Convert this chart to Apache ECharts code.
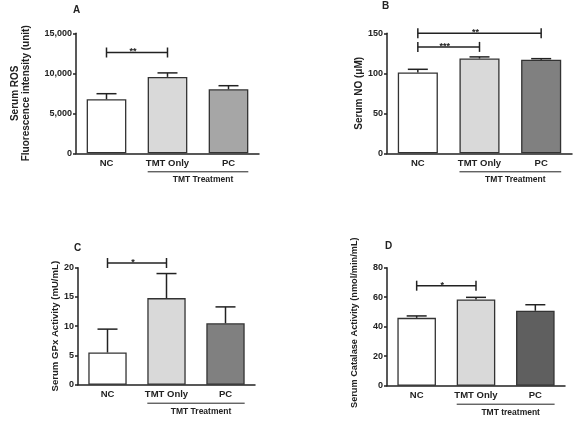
<!DOCTYPE html>
<html><head><meta charset="utf-8">
<script src="https://cdn.jsdelivr.net/npm/echarts@6/dist/echarts.min.js"></script>
<style>html,body{margin:0;padding:0;background:#fff}#c{width:579px;height:422px}</style>
</head><body><div id="c"></div>
<script>
// ---- data ----
const categories = ['NC', 'TMT Only', 'PC'];
const treatedGroup = [1, 2]; // categories under the "TMT Treatment" line

const rosMean = [6750, 9550, 8000];
const rosErr  = [700, 500, 450];
const rosTicks = [0, 5000, 10000, 15000];
const rosSig = [[0, 1, 12600, '**']];

const noMean = [101, 118.5, 117];
const noErr  = [4, 2, 1.3];
const noTicks = [0, 50, 100, 150];
const noSig = [[0, 2, 150, '**'], [0, 1, 133, '***']];

const gpxMean = [5.5, 14.8, 10.5];
const gpxErr  = [4.0, 4.2, 2.8];
const gpxTicks = [0, 5, 10, 15, 20];
const gpxSig = [[0, 1, 20.8, '*']];

const catMean = [46, 58.5, 50.8];
const catErr  = [1.3, 1.4, 4.1];
const catTicks = [0, 20, 40, 60, 80];
const catSig = [[0, 1, 67.8, '*']];

const panelLetters = ['A', 'B', 'C', 'D'];
const yTitles = ['Serum ROS\nFluorescence intensity (unit)', 'Serum NO (\u03bcM)', 'Serum GPx Activity (mU/mL)', 'Serum Catalase Activity (nmol/min/mL)'];
const groupLabels = ['TMT Treatment', 'TMT Treatment', 'TMT Treatment', 'TMT treatment'];

// ---- layout / style ----
const FONT = "'Liberation Sans', Arial, sans-serif";
const INK = '#222';
const panels = [
  { grid: {left: 76, top: 33.3, width: 183, height: 120}, mean: rosMean, err: rosErr, ticks: rosTicks, sig: rosSig, gap: 44, nameSize: 10, namePad: [0, 0, 0, 0], colors: ['#ffffff', '#d9d9d9', '#a6a6a6'], letter: {left: 73, top: 5}, fmt: v => v.toLocaleString('en-US') },
  { grid: {left: 387, top: 33.3, width: 185, height: 120}, mean: noMean, err: noErr, ticks: noTicks, sig: noSig, gap: 22, nameSize: 10, namePad: [0, 0, 0, 0], colors: ['#ffffff', '#d9d9d9', '#808080'], letter: {left: 382, top: 1}, fmt: v => String(v) },
  { grid: {left: 78, top: 267.7, width: 177, height: 117}, mean: gpxMean, err: gpxErr, ticks: gpxTicks, sig: gpxSig, gap: 17, nameSize: 9.6, namePad: [0, 0, 0, 0], colors: ['#ffffff', '#d9d9d9', '#808080'], letter: {left: 74, top: 243}, fmt: v => String(v) },
  { grid: {left: 387, top: 267.7, width: 178, height: 118}, mean: catMean, err: catErr, ticks: catTicks, sig: catSig, gap: 27, nameSize: 9.2, namePad: [0, 0, 0, 8], colors: ['#ffffff', '#d9d9d9', '#5f5f5f'], letter: {left: 385, top: 241}, fmt: v => String(v) }
];

const grid = [], xAxis = [], yAxis = [], series = [], title = [];
panels.forEach((p, k) => {
  grid.push(p.grid);
  title.push({ text: panelLetters[k], left: p.letter.left, top: p.letter.top, padding: 0,
    textStyle: { fontFamily: FONT, fontSize: 10, fontWeight: 'bold', color: INK } });
  xAxis.push({
    type: 'category', gridIndex: k, data: categories,
    axisLine: { lineStyle: { color: INK, width: 1.5 } },
    axisTick: { alignWithLabel: true, length: 3, lineStyle: { color: INK, width: 1.5 } },
    axisLabel: { interval: 0, margin: 5, fontFamily: FONT, fontSize: 9.5, fontWeight: 'bold', color: INK }
  });
  const t = p.ticks;
  yAxis.push({
    type: 'value', gridIndex: k, min: t[0], max: t[t.length - 1], interval: t[1] - t[0],
    name: yTitles[k], nameLocation: 'middle', nameRotate: 90, nameGap: p.gap, nameMoveOverlap: false,
    nameTextStyle: { fontFamily: FONT, fontSize: p.nameSize, fontWeight: 'bold', color: INK, lineHeight: 11, padding: p.namePad },
    splitLine: { show: false },
    axisLine: { show: true, lineStyle: { color: INK, width: 1.5 } },
    axisTick: { show: true, length: 3, lineStyle: { color: INK, width: 1.5 } },
    axisLabel: { margin: 4, fontFamily: FONT, fontSize: 9, fontWeight: 'bold', color: INK, formatter: p.fmt }
  });
  // bars
  series.push({
    type: 'bar', xAxisIndex: k, yAxisIndex: k, barWidth: '65%', z: 2,
    data: p.mean.map((v, i) => ({ value: v, itemStyle: { color: p.colors[i] } })),
    itemStyle: { borderColor: '#333', borderWidth: 1.3 }
  });
  // error bars (SEM, upward)
  series.push({
    type: 'custom', xAxisIndex: k, yAxisIndex: k, z: 3, clip: false,
    data: p.mean.map((v, i) => [i, v + p.err[i]]),
    renderItem: (params, api) => {
      const i = params.dataIndex;
      const base = api.coord([i, p.mean[i]]);
      const top = api.coord([i, p.mean[i] + p.err[i]]);
      const st = { stroke: INK, lineWidth: 1.5 };
      return { type: 'group', children: [
        { type: 'line', shape: { x1: base[0], y1: base[1], x2: top[0], y2: top[1] }, style: st },
        { type: 'line', shape: { x1: top[0] - 10, y1: top[1], x2: top[0] + 10, y2: top[1] }, style: st }
      ] };
    }
  });
  // significance brackets
  series.push({
    type: 'custom', xAxisIndex: k, yAxisIndex: k, z: 4, clip: false,
    data: p.sig.map(s => [s[0], s[2]]),
    renderItem: (params, api) => {
      const s = p.sig[params.dataIndex];
      const a = api.coord([s[0], s[2]]);
      const b = api.coord([s[1], s[2]]);
      const st = { stroke: INK, lineWidth: 1.5 };
      return { type: 'group', children: [
        { type: 'line', shape: { x1: a[0], y1: a[1], x2: b[0], y2: b[1] }, style: st },
        { type: 'line', shape: { x1: a[0], y1: a[1] - 5, x2: a[0], y2: a[1] + 5 }, style: st },
        { type: 'line', shape: { x1: b[0], y1: b[1] - 5, x2: b[0], y2: b[1] + 5 }, style: st },
        { type: 'text', style: { text: s[3], x: (a[0] + b[0]) / 2 - 4, y: a[1] - 0.5, align: 'center', verticalAlign: 'middle',
          font: 'bold 9px ' + FONT, fill: INK } }
      ] };
    }
  });
  // treatment group underline + label
  series.push({
    type: 'custom', xAxisIndex: k, yAxisIndex: k, z: 4, clip: false,
    data: [[treatedGroup[0], 0]],
    renderItem: (params, api) => {
      const a = api.coord([treatedGroup[0], 0]);
      const b = api.coord([treatedGroup[treatedGroup.length - 1], 0]);
      const half = api.size([1, 0])[0] * 0.325;
      const x1 = a[0] - half, x2 = b[0] + half, y = a[1] + 18.5;
      return { type: 'group', children: [
        { type: 'line', shape: { x1: x1, y1: y, x2: x2, y2: y }, style: { stroke: INK, lineWidth: 1 } },
        { type: 'text', style: { text: groupLabels[k], x: (x1 + x2) / 2 + 5, y: y + 8, align: 'center', verticalAlign: 'middle',
          font: 'bold 8.5px ' + FONT, fill: INK } }
      ] };
    }
  });
});

const chart = echarts.init(document.getElementById('c'), null, { renderer: 'canvas' });
chart.setOption({
  backgroundColor: '#ffffff',
  animation: false,
  textStyle: { fontFamily: FONT },
  title, grid, xAxis, yAxis, series
});
</script>
</body></html>
